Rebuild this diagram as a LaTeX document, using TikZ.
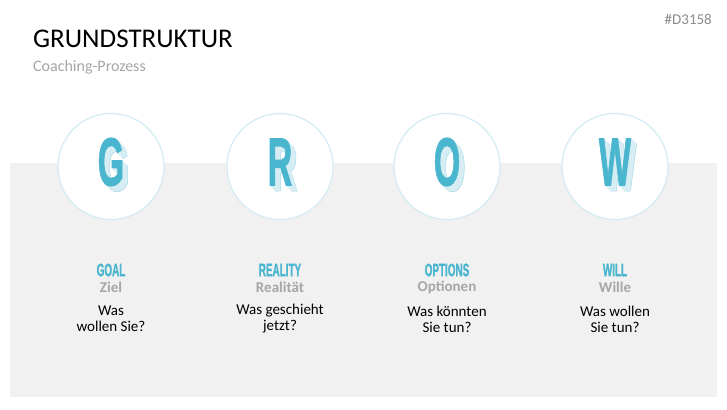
\documentclass[tikz,border=0pt]{standalone}
\usepackage{fontspec}
\setmainfont{Carlito}
\newfontfamily\headfont[BoldFeatures={FakeBold=1.5}]{Liberation Sans}
\usetikzlibrary{positioning}
\definecolor{growblue}{HTML}{4AB5CE}
\definecolor{growshade}{HTML}{D6EDF4}
\definecolor{growedge}{HTML}{A8D8E6}
\definecolor{ringblue}{HTML}{D3ECF4}
\definecolor{bandgray}{HTML}{F1F1F1}
\definecolor{subgray}{HTML}{A6A6A6}
\definecolor{capgray}{HTML}{8C8C8C}

\begin{document}
\begin{tikzpicture}[x=1pt,y=-1pt,
	ring/.style={circle,draw=ringblue,line width=1.2pt,fill=white,minimum size=106pt,inner sep=0pt},
	bigletter/.style={font=\headfont\bfseries\fontsize{68}{68}\selectfont,xscale=0.5,inner sep=0pt},
	steptitle/.style={font=\headfont\bfseries\fontsize{18}{18}\selectfont,xscale=0.55,text=growblue,inner sep=0pt},
	stepsub/.style={font=\bfseries\fontsize{15}{15}\selectfont,text=subgray,inner sep=0pt},
	question/.style={font=\fontsize{15}{16}\selectfont,align=center,inner sep=0pt}]
	% slide frame and grey band
	\useasboundingbox (0,0) rectangle (727,409);
	\fill[white] (0,0) rectangle (727,409);
	\fill[bandgray] (10,163) rectangle (717,397);
	% heading
	\node[anchor=base west,inner sep=0pt,font=\fontsize{27}{27}\selectfont] (title) at (33,48) {GRUNDSTRUKTUR};
	\node[anchor=base west,inner sep=0pt,font=\fontsize{16}{16}\selectfont,text=subgray] (subtitle) at (33,72) {Coaching-Prozess};
	\node[anchor=base east,inner sep=0pt,font=\fontsize{15}{15}\selectfont,text=capgray] (code) at (712,25) {\#D3158};
	% the four GROW steps
	\foreach \n/\cx/\ttl/\sub/\qs in {G/111/GOAL/Ziel/{Was\\wollen Sie?},
		R/280/REALITY/Realität/{Was geschieht\\jetzt?},
		O/447/OPTIONS/Optionen/{Was könnten\\Sie tun?},
		W/615/WILL/Wille/{Was wollen\\Sie tun?}}{
		\node[ring] (ring\n) at (\cx,166.5) {};
		\node[bigletter,text=growedge] (edge\n) at (\cx+5.5,167.5) {\n};
		\foreach \d in {5,4,...,1}{
			\node[bigletter,text=growshade] (shade\n\d) at (\cx+\d,162+\d) {\n};
		}
		\node[bigletter,text=growblue] (let\n) at (\cx,162) {\n};
		\node[steptitle] (ttl\n) at (\cx,270) {\ttl};
		\node[stepsub] (sub\n) at (\cx,287) {\sub};
		\node[question] (q\n) at (\cx,319) {\qs};
	}
\end{tikzpicture}
\end{document}
